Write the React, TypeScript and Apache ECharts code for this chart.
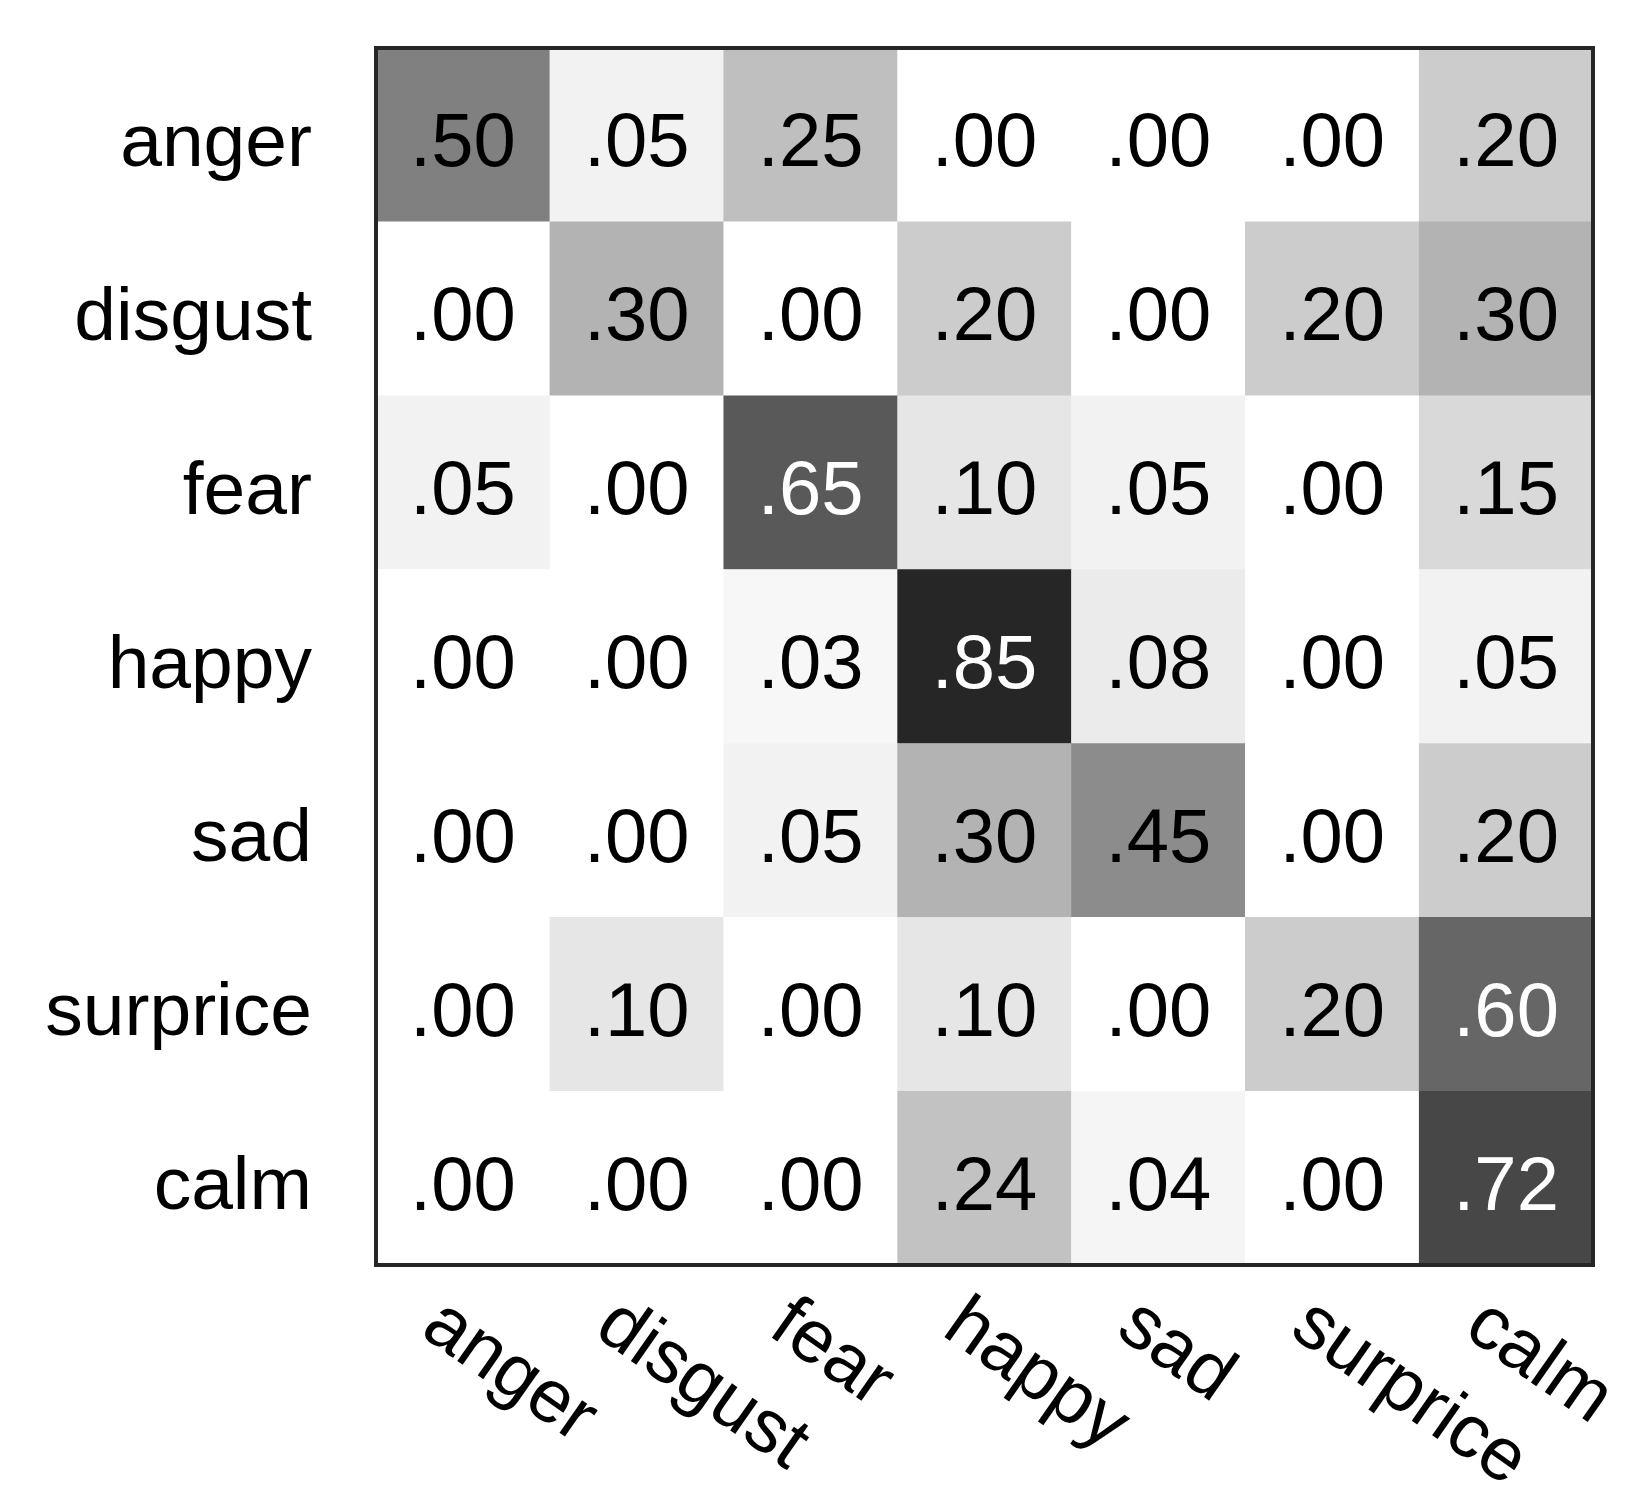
import React, { useEffect, useRef } from "react";
import * as echarts from "echarts";

const categories = ["anger", "disgust", "fear", "happy", "sad", "surprice", "calm"];

// rows: true class (top to bottom), columns: predicted class (left to right)
const rowAnger = [0.5, 0.05, 0.25, 0.0, 0.0, 0.0, 0.2];
const rowDisgust = [0.0, 0.3, 0.0, 0.2, 0.0, 0.2, 0.3];
const rowFear = [0.05, 0.0, 0.65, 0.1, 0.05, 0.0, 0.15];
const rowHappy = [0.0, 0.0, 0.03, 0.85, 0.08, 0.0, 0.05];
const rowSad = [0.0, 0.0, 0.05, 0.3, 0.45, 0.0, 0.2];
const rowSurprice = [0.0, 0.1, 0.0, 0.1, 0.0, 0.2, 0.6];
const rowCalm = [0.0, 0.0, 0.0, 0.24, 0.04, 0.0, 0.72];

const matrix = [rowAnger, rowDisgust, rowFear, rowHappy, rowSad, rowSurprice, rowCalm];

const FONT = "'Liberation Sans', Arial, Helvetica, sans-serif";

export default function App() {
  const ref = useRef<HTMLDivElement>(null);
  useEffect(() => {
    if (!ref.current) return;
    const chart = echarts.init(ref.current, null, { renderer: "svg" });
    const data: any[] = [];
    matrix.forEach((row, r) => {
      row.forEach((v, c) => {
        data.push({
          value: [c, r, v],
          label: { color: v > 0.5 ? "#ffffff" : "#000000" },
        });
      });
    });
    chart.setOption({
      animation: false,
      backgroundColor: "#ffffff",
      grid: {
        left: 368,
        top: 40,
        width: 1217,
        height: 1217,
        show: true,
        z: 10,
        borderColor: "#262626",
        borderWidth: 4,
        backgroundColor: "transparent",
        containLabel: false,
        outerBoundsMode: "none",
      },
      xAxis: {
        type: "category",
        data: categories,
        axisLine: { show: false },
        axisTick: { show: false },
        splitLine: { show: false },
        axisLabel: {
          rotate: -35,
          fontSize: 75,
          color: "#000000",
          fontFamily: FONT,
          margin: 6,
          interval: 0,
          verticalAlign: "top",
          lineHeight: 102,
        },
      },
      yAxis: {
        type: "category",
        data: categories,
        inverse: true,
        axisLine: { show: false },
        axisTick: { show: false },
        splitLine: { show: false },
        axisLabel: {
          fontSize: 75,
          color: "#000000",
          fontFamily: FONT,
          margin: 64,
          interval: 0,
          verticalAlign: "top",
          lineHeight: 10,
        },
      },
      visualMap: {
        show: false,
        min: 0,
        max: 1,
        dimension: 2,
        inRange: { color: ["#ffffff", "#000000"] },
      },
      series: [
        {
          type: "heatmap",
          data,
          label: {
            show: true,
            fontSize: 76,
            fontFamily: FONT,
            offset: [0, 5],
            formatter: (p: any) => p.value[2].toFixed(2).replace(/^0/, ""),
          },
          itemStyle: { borderWidth: 0 },
          emphasis: { disabled: true },
        },
      ],
    });
    return () => chart.dispose();
  }, []);
  return <div ref={ref} style={{ width: 1623, height: 1493 }} />;
}
